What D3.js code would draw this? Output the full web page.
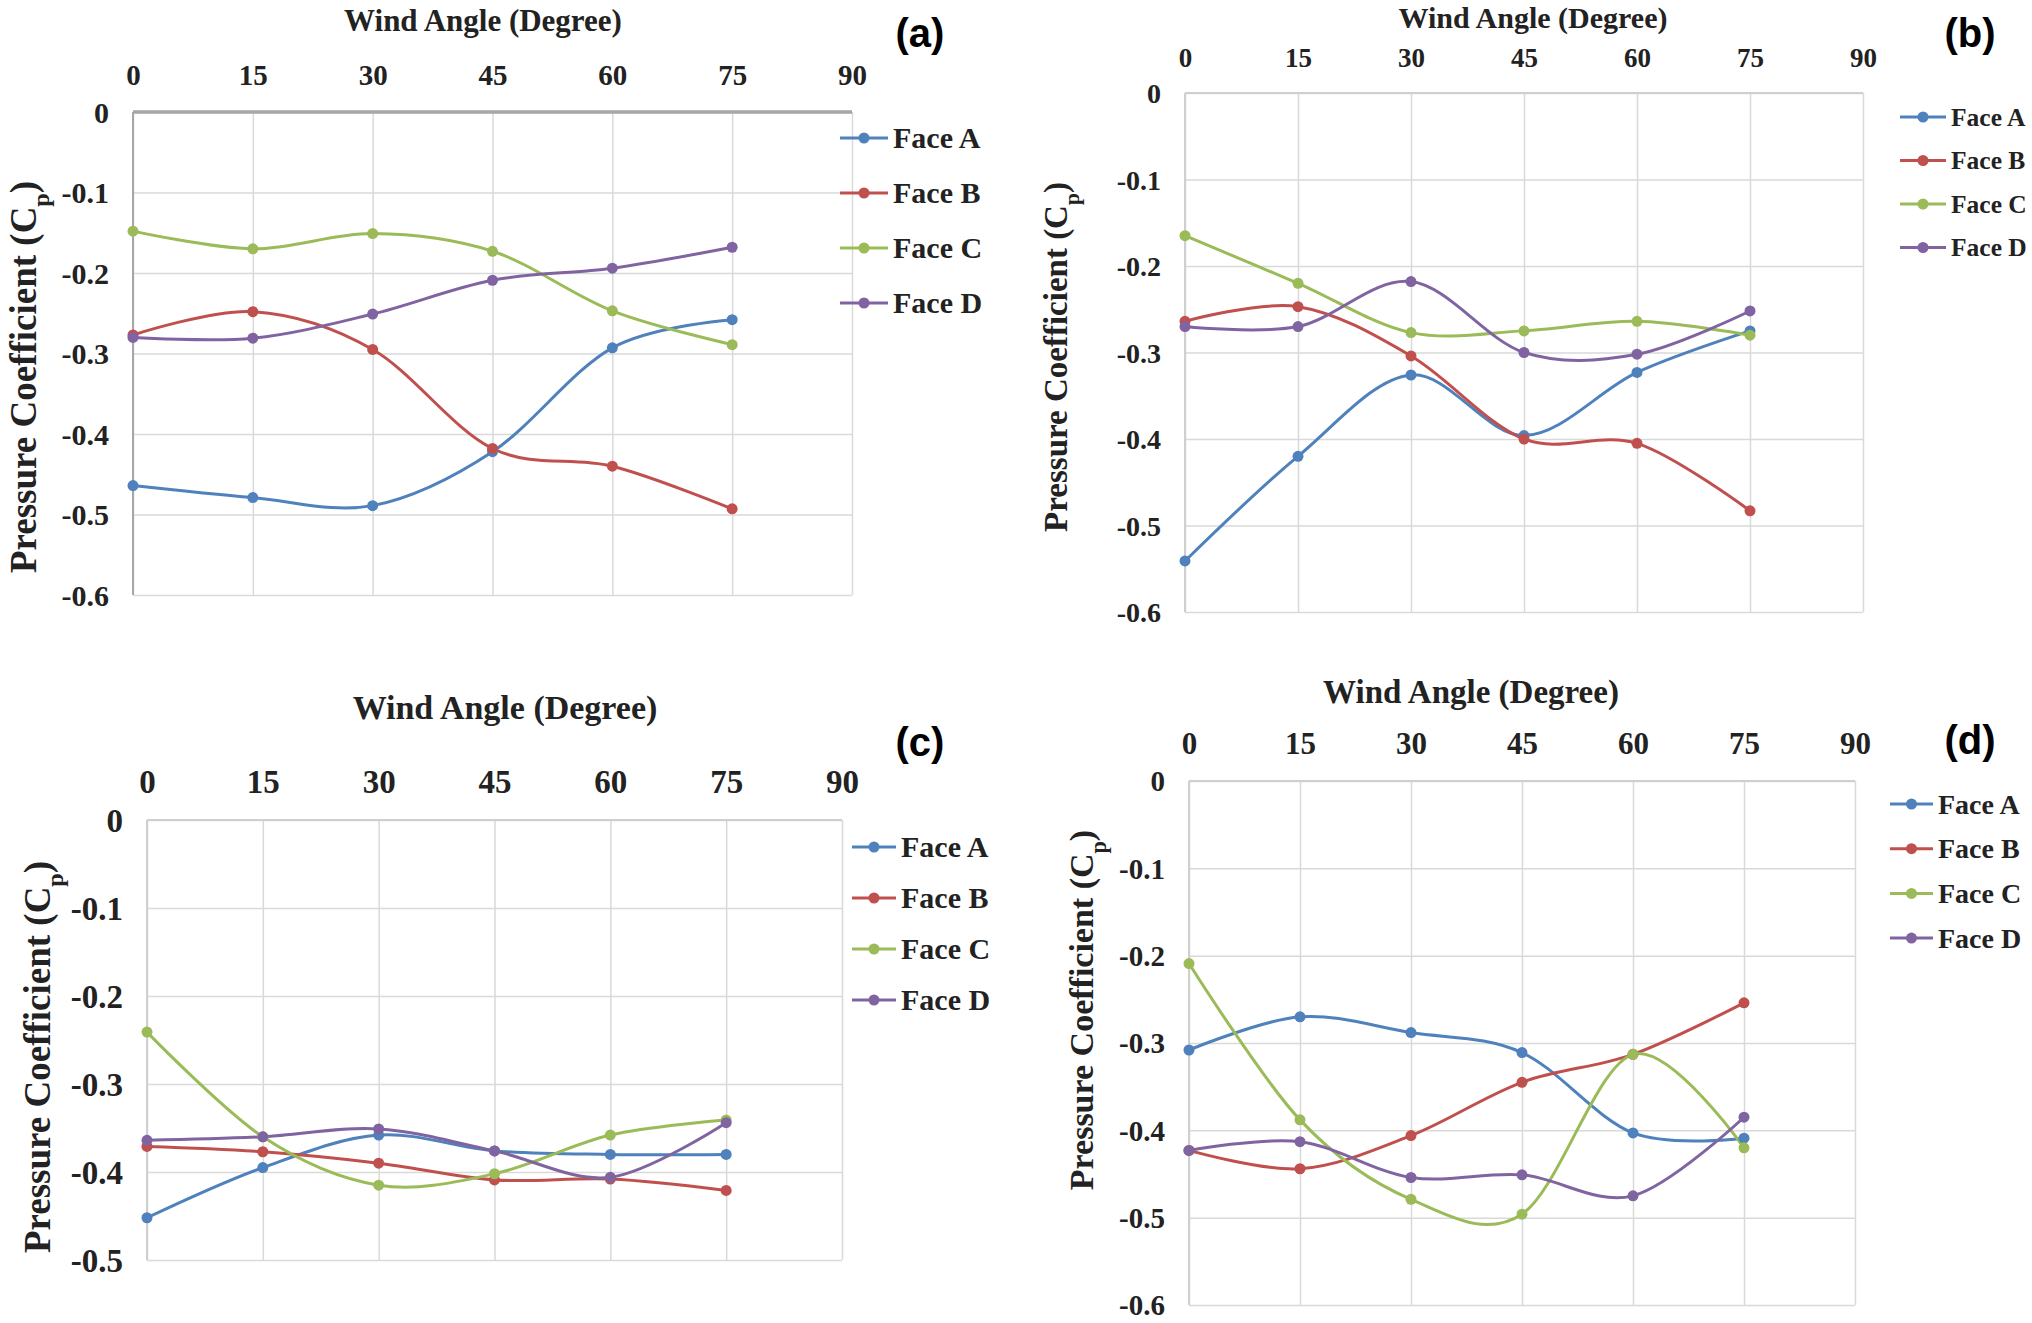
<!DOCTYPE html>
<html>
<head>
<meta charset="utf-8">
<script src="https://cdn.jsdelivr.net/npm/d3@7"></script>
<style>
    body { margin: 0; background: #fff; }
    svg text { font-family: "Liberation Serif", "Times New Roman", serif; font-weight: bold; fill: #222; }
    svg text.panel-tag { font-family: "Liberation Sans", Arial, sans-serif; fill: #000; }
</style>
</head>
<body>
<div id="chart"></div>
<script>
/* global d3 */

const angles = [0, 15, 30, 45, 60, 75];
const angleTicks = [0, 15, 30, 45, 60, 75, 90];
const faces = ["Face A", "Face B", "Face C", "Face D"];
const faceColors = ["#4f81bd", "#c0504d", "#9bbb59", "#8064a2"];
const cpTicks6 = [0, -0.1, -0.2, -0.3, -0.4, -0.5, -0.6];
const cpTicks5 = [0, -0.1, -0.2, -0.3, -0.4, -0.5];

// rows: Face A, B, C, D -- columns follow `angles`
const cpPanelA = [
    [-0.464, -0.479, -0.489, -0.422, -0.293, -0.258],
    [-0.277, -0.248, -0.295, -0.418, -0.440, -0.493],
    [-0.148, -0.170, -0.151, -0.173, -0.247, -0.289],
    [-0.280, -0.281, -0.251, -0.209, -0.194, -0.168]
];
const cpPanelB = [
    [-0.541, -0.420, -0.326, -0.396, -0.323, -0.275],
    [-0.264, -0.247, -0.304, -0.400, -0.405, -0.483],
    [-0.165, -0.220, -0.277, -0.275, -0.264, -0.280],
    [-0.270, -0.270, -0.218, -0.300, -0.302, -0.252]
];
const cpPanelC = [
    [-0.452, -0.395, -0.358, -0.376, -0.380, -0.380],
    [-0.371, -0.377, -0.390, -0.409, -0.408, -0.421],
    [-0.241, -0.360, -0.415, -0.402, -0.358, -0.341],
    [-0.364, -0.360, -0.351, -0.376, -0.406, -0.344]
];
const cpPanelD = [
    [-0.308, -0.270, -0.288, -0.311, -0.403, -0.409],
    [-0.423, -0.444, -0.406, -0.345, -0.313, -0.254],
    [-0.209, -0.388, -0.479, -0.496, -0.313, -0.420],
    [-0.423, -0.413, -0.454, -0.451, -0.475, -0.385]
];

const width = 2032;
const height = 1323;

// where each of the four sub-figures sits on the page
const panels = [
    {tag: "(a)", values: cpPanelA, ticks: cpTicks6,
        left: 133, right: 852, top: 112, bottom: 595, axisColor: "#a6a6a6", axisWidth: 3.5,
        tickFs: 29, yTickFs: 30, xLabelGap: 37,
        titleX: 483, titleY: 20, titleFs: 31,
        tagX: 920, tagY: 33, tagFs: 40,
        yTitleX: 36, yTitleY: 377, yTitleFs: 37,
        legendX: 840, legendY: 138, legendStep: 55, legendLine: 48, legendFs: 30},
    {tag: "(b)", values: cpPanelB, ticks: cpTicks6,
        left: 1185, right: 1863, top: 93, bottom: 612, axisColor: "#cfcfcf", axisWidth: 2,
        tickFs: 27, yTickFs: 28, xLabelGap: 35,
        titleX: 1533, titleY: 17, titleFs: 30,
        tagX: 1970, tagY: 33, tagFs: 40,
        yTitleX: 1067, yTitleY: 357, yTitleFs: 33,
        legendX: 1900, legendY: 117, legendStep: 43.5, legendLine: 46, legendFs: 25.5},
    {tag: "(c)", values: cpPanelC, ticks: cpTicks5,
        left: 147, right: 842, top: 820, bottom: 1260, axisColor: "#cfcfcf", axisWidth: 2,
        tickFs: 33, yTickFs: 33, xLabelGap: 38,
        titleX: 505, titleY: 707, titleFs: 34,
        tagX: 920, tagY: 742, tagFs: 40,
        yTitleX: 50, yTitleY: 1057, yTitleFs: 37,
        legendX: 852, legendY: 847, legendStep: 51, legendLine: 44, legendFs: 30},
    {tag: "(d)", values: cpPanelD, ticks: cpTicks6,
        left: 1189, right: 1855, top: 781, bottom: 1305, axisColor: "#cfcfcf", axisWidth: 2,
        tickFs: 31, yTickFs: 29, xLabelGap: 38,
        titleX: 1471, titleY: 691, titleFs: 33,
        tagX: 1970, tagY: 740, tagFs: 40,
        yTitleX: 1093, yTitleY: 1010, yTitleFs: 34,
        legendX: 1890, legendY: 804, legendStep: 44.7, legendLine: 43, legendFs: 28}
];

const cpFormat = d => d === 0 ? "0" : d.toFixed(1);

function drawPanel(svg, p) {
    const x = d3.scaleLinear()
        .domain([0, 90])
        .range([p.left, p.right]);
    const y = d3.scaleLinear()
        .domain([d3.min(p.ticks), 0])
        .range([p.bottom, p.top]);

    const g = svg.append("g");

    // gridlines
    g.append("g")
        .attr("transform", `translate(0,${p.top})`)
        .call(d3.axisTop(x).tickValues(angleTicks).tickSize(-(p.bottom - p.top)).tickFormat(""))
        .call(g => g.select(".domain").remove())
        .call(g => g.selectAll("line").attr("stroke", "#d9d9d9").attr("stroke-width", 1.5));
    g.append("g")
        .attr("transform", `translate(${p.left},0)`)
        .call(d3.axisLeft(y).tickValues(p.ticks).tickSize(-(p.right - p.left)).tickFormat(""))
        .call(g => g.select(".domain").remove())
        .call(g => g.selectAll("line").attr("stroke", "#d9d9d9").attr("stroke-width", 1.5));

    // axis lines (top and left)
    g.append("line")
        .attr("x1", x(0)).attr("x2", x(90))
        .attr("y1", y(0)).attr("y2", y(0))
        .attr("stroke", p.axisColor).attr("stroke-width", p.axisWidth);
    g.append("line")
        .attr("x1", x(0)).attr("x2", x(0))
        .attr("y1", y(0)).attr("y2", y(d3.min(p.ticks)))
        .attr("stroke", p.axisColor).attr("stroke-width", 2);

    // tick labels
    g.append("g")
        .attr("transform", `translate(0,${p.top})`)
        .call(d3.axisTop(x).tickValues(angleTicks).tickSize(0).tickPadding(p.xLabelGap - 0.34 * p.tickFs))
        .call(g => g.select(".domain").remove())
        .call(g => g.selectAll("text")
            .attr("fill", "#222")
            .style("font-size", p.tickFs + "px"));
    g.append("g")
        .attr("transform", `translate(${p.left},0)`)
        .call(d3.axisLeft(y).tickValues(p.ticks).tickSize(0).tickPadding(24).tickFormat(cpFormat))
        .call(g => g.select(".domain").remove())
        .call(g => g.selectAll("text")
            .attr("fill", "#222")
            .attr("dy", "0.34em")
            .style("font-size", p.yTickFs + "px"));

    const line = d3.line()
        .x((d, i) => x(angles[i]))
        .y(d => y(d))
        .curve(d3.curveCardinal.tension(0));

    g.append("g")
        .selectAll("path")
        .data(p.values)
        .join("path")
        .attr("fill", "none")
        .attr("stroke", (d, i) => faceColors[i])
        .attr("stroke-width", 3)
        .attr("d", line);

    g.append("g")
        .selectAll("g")
        .data(p.values)
        .join("g")
        .attr("fill", (d, i) => faceColors[i])
        .selectAll("circle")
        .data(d => d)
        .join("circle")
        .attr("cx", (d, i) => x(angles[i]))
        .attr("cy", d => y(d))
        .attr("r", 5.5);

    // legend
    const legend = g.append("g")
        .selectAll("g")
        .data(faces)
        .join("g")
        .attr("transform", (d, i) => `translate(${p.legendX},${p.legendY + i * p.legendStep})`);
    legend.append("line")
        .attr("x1", 0).attr("x2", p.legendLine)
        .attr("stroke", (d, i) => faceColors[i])
        .attr("stroke-width", 3);
    legend.append("circle")
        .attr("cx", p.legendLine / 2)
        .attr("r", 5.5)
        .attr("fill", (d, i) => faceColors[i]);
    legend.append("text")
        .attr("x", p.legendLine + 5)
        .attr("dy", "0.34em")
        .style("font-size", p.legendFs + "px")
        .text(d => d);

    // titles
    g.append("text")
        .attr("x", p.titleX)
        .attr("y", p.titleY)
        .attr("dy", "0.35em")
        .attr("text-anchor", "middle")
        .style("font-size", p.titleFs + "px")
        .text("Wind Angle (Degree)");

    g.append("text")
        .attr("class", "panel-tag")
        .attr("x", p.tagX)
        .attr("y", p.tagY)
        .attr("dy", "0.35em")
        .attr("text-anchor", "middle")
        .style("font-size", p.tagFs + "px")
        .text(p.tag);

    const yTitle = g.append("text")
        .attr("transform", `translate(${p.yTitleX},${p.yTitleY}) rotate(-90)`)
        .attr("text-anchor", "middle")
        .style("font-size", p.yTitleFs + "px");
    yTitle.append("tspan").text("Pressure Coefficient (C");
    yTitle.append("tspan")
        .attr("baseline-shift", "sub")
        .style("font-size", "0.65em")
        .text("p");
    yTitle.append("tspan").text(")");
}

const svg = d3.select("#chart").append("svg")
    .attr("width", width)
    .attr("height", height)
    .attr("viewBox", [0, 0, width, height]);

panels.forEach(p => drawPanel(svg, p));
</script>
</body>
</html>
